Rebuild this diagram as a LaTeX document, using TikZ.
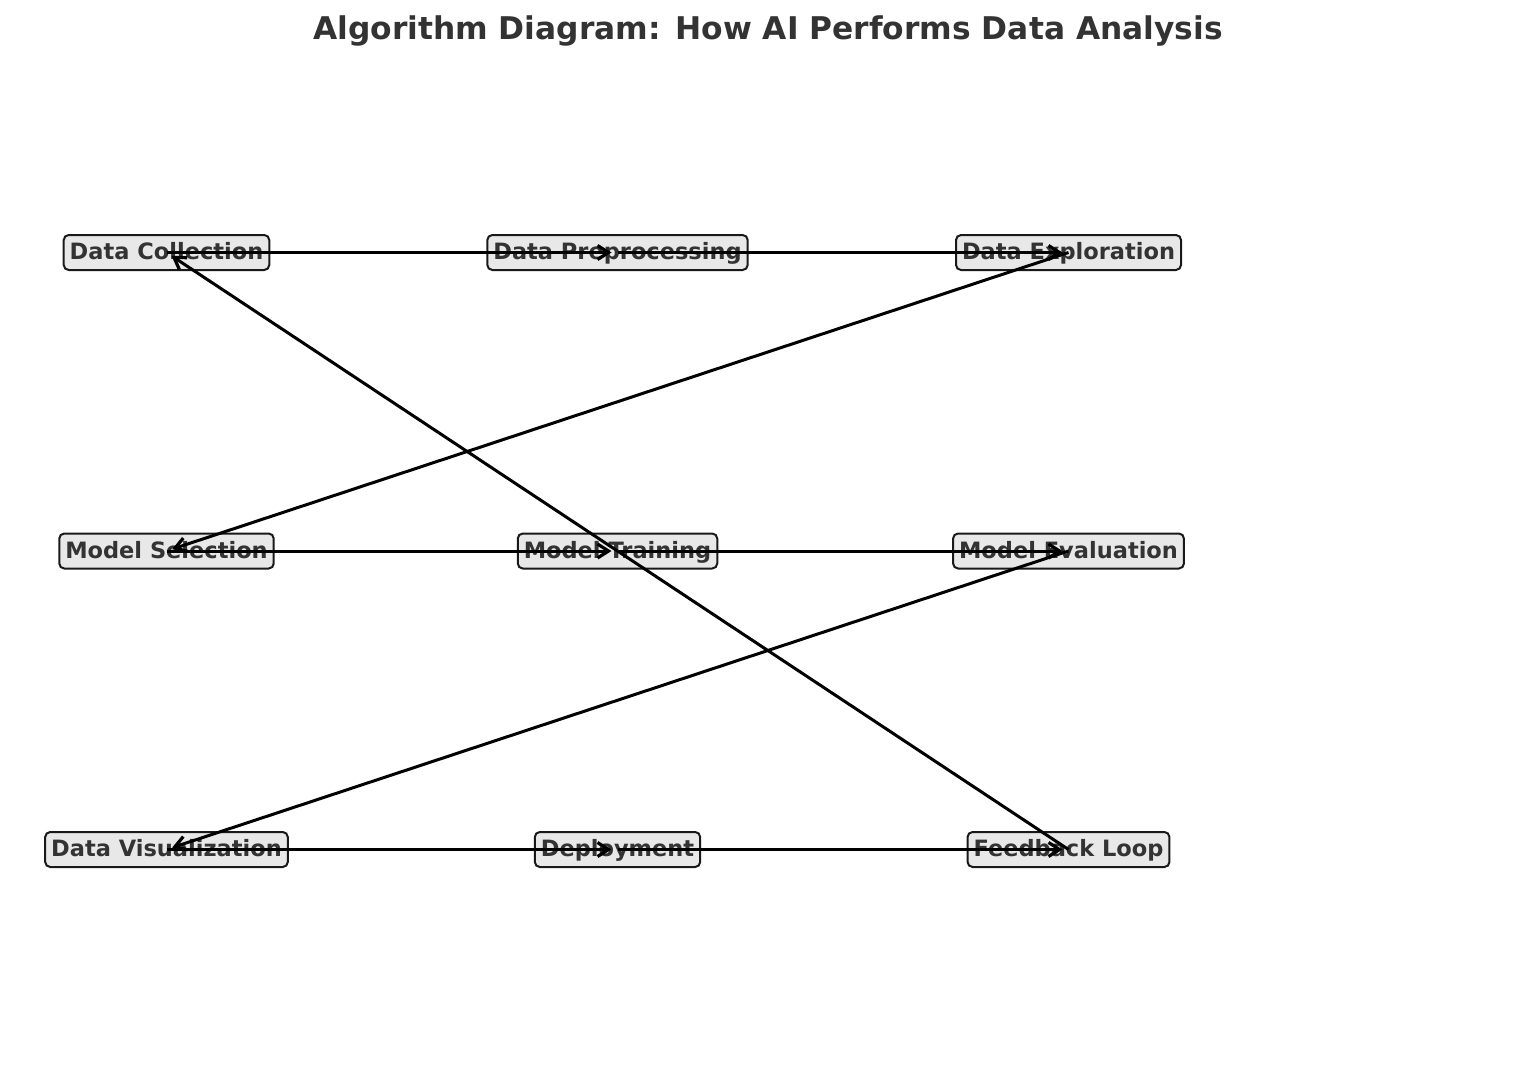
\documentclass[tikz,border=0pt]{standalone}
\usepackage{fontspec}
\setmainfont{DejaVu Sans}
\usetikzlibrary{arrows.meta}
\definecolor{txt}{HTML}{333333}
\definecolor{boxfill}{HTML}{E8E8E8}
\tikzset{
  stepbox/.style={draw=black!90, line width=2pt, fill=boxfill, rounded corners=5pt,
    font=\fontsize{22.5}{25}\selectfont\bfseries, text=txt, inner xsep=6pt,
    text height=17.5pt, text depth=3.5pt, minimum height=35pt, inner ysep=0pt},
  flow/.style={line width=3pt, -{Straight Barb[length=11pt,width=14pt,line width=3.2pt]}, shorten >=6pt}
}
\begin{document}
\begin{tikzpicture}[x=1pt,y=-1pt]
\useasboundingbox (0,0) rectangle (1536,1065);
\node[font=\fontsize{31.3}{35}\selectfont\bfseries, text=txt] (title) at (768,31) {Algorithm Diagram: How AI Performs Data Analysis};
\node[stepbox] (dc) at (166.5,252.5) {Data Collection};
\node[stepbox] (dp) at (617.5,252.5) {Data Preprocessing};
\node[stepbox] (de) at (1068.5,252.5) {Data Exploration};
\node[stepbox] (ms) at (166.5,551) {Model Selection};
\node[stepbox] (mt) at (617.5,551) {Model Training};
\node[stepbox] (me) at (1068.5,551) {Model Evaluation};
\node[stepbox] (dv) at (166.5,849.5) {Data Visualization};
\node[stepbox] (dy) at (617.5,849.5) {Deployment};
\node[stepbox] (fl) at (1068.5,849.5) {Feedback Loop};
\draw[flow] (dc.center) -- (dp.center);
\draw[flow] (dp.center) -- (de.center);
\draw[flow] (de.center) -- (ms.center);
\draw[flow] (ms.center) -- (mt.center);
\draw[flow] (mt.center) -- (me.center);
\draw[flow] (me.center) -- (dv.center);
\draw[flow] (dv.center) -- (dy.center);
\draw[flow] (dy.center) -- (fl.center);
\draw[flow] (fl.center) -- (dc.center);
\end{tikzpicture}
\end{document}
